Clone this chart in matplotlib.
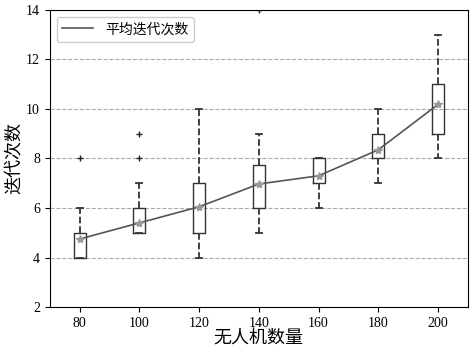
import matplotlib.pyplot as plt
from matplotlib.lines import Line2D

plt.rcParams['font.family'] = ['Liberation Serif', 'Noto Sans CJK SC']

# 无人机数量
uav_num = [80, 100, 120, 140, 160, 180, 200]
# 箱线图统计量
whislo = [4, 5, 4, 5, 6, 7, 8]
q1 = [4, 5, 5, 6, 7, 8, 9]
med = [4.5, 5.5, 6, 7, 7.5, 8.5, 10]
q3 = [5, 6, 7, 7.75, 8, 9, 11]
whishi = [6, 7, 10, 9, 8, 10, 13]
fliers = [[8], [8, 9], [], [14], [], [], []]
# 平均迭代次数
mean_iter = [4.75, 5.4, 6.05, 6.97, 7.3, 8.35, 10.18]

stats = []
for i in range(len(uav_num)):
    stats.append({"whislo": whislo[i], "q1": q1[i], "med": med[i], "q3": q3[i],
                  "whishi": whishi[i], "fliers": fliers[i]})

fig = plt.figure(figsize=(4.74, 3.51), dpi=100)
ax = fig.add_axes([0.105, 0.125, 0.882, 0.847])

ax.yaxis.grid(True, linestyle='--', color='#aaaaaa', linewidth=0.8)
ax.set_axisbelow(True)

ax.bxp(stats, positions=uav_num, widths=4, showfliers=True,
       boxprops=dict(color='#333333', linewidth=1.0),
       whiskerprops=dict(color='#333333', linestyle='--', linewidth=1.3),
       capprops=dict(color='#333333', linewidth=1.3),
       medianprops=dict(linewidth=0),
       flierprops=dict(marker='+', markeredgecolor='#222222', markersize=5))

ax.plot(uav_num, mean_iter, color='#555555', linewidth=1.2, marker='*',
        markersize=6, markerfacecolor='#999999', markeredgecolor='#999999')

ax.set_xlim(70, 210)
ax.set_ylim(2, 14)
ax.set_xticks(uav_num)
ax.set_xticklabels([str(v) for v in uav_num])
ax.set_yticks([2, 4, 6, 8, 10, 12, 14])
ax.tick_params(labelsize=10)
ax.set_xlabel('无人机数量', fontsize=13, family=['Noto Sans CJK SC'], labelpad=0)
ax.set_ylabel('迭代次数', fontsize=13, family=['Noto Sans CJK SC'], labelpad=2)

handle = Line2D([], [], color='#555555', linewidth=1.2)
ax.legend([handle], ['平均迭代次数'], loc='upper left',
          prop={'family': 'Noto Sans CJK SC', 'size': 10},
          handlelength=2.2, handletextpad=0.9, framealpha=1, edgecolor='#cccccc')

fig.savefig('out.png', dpi=100)
